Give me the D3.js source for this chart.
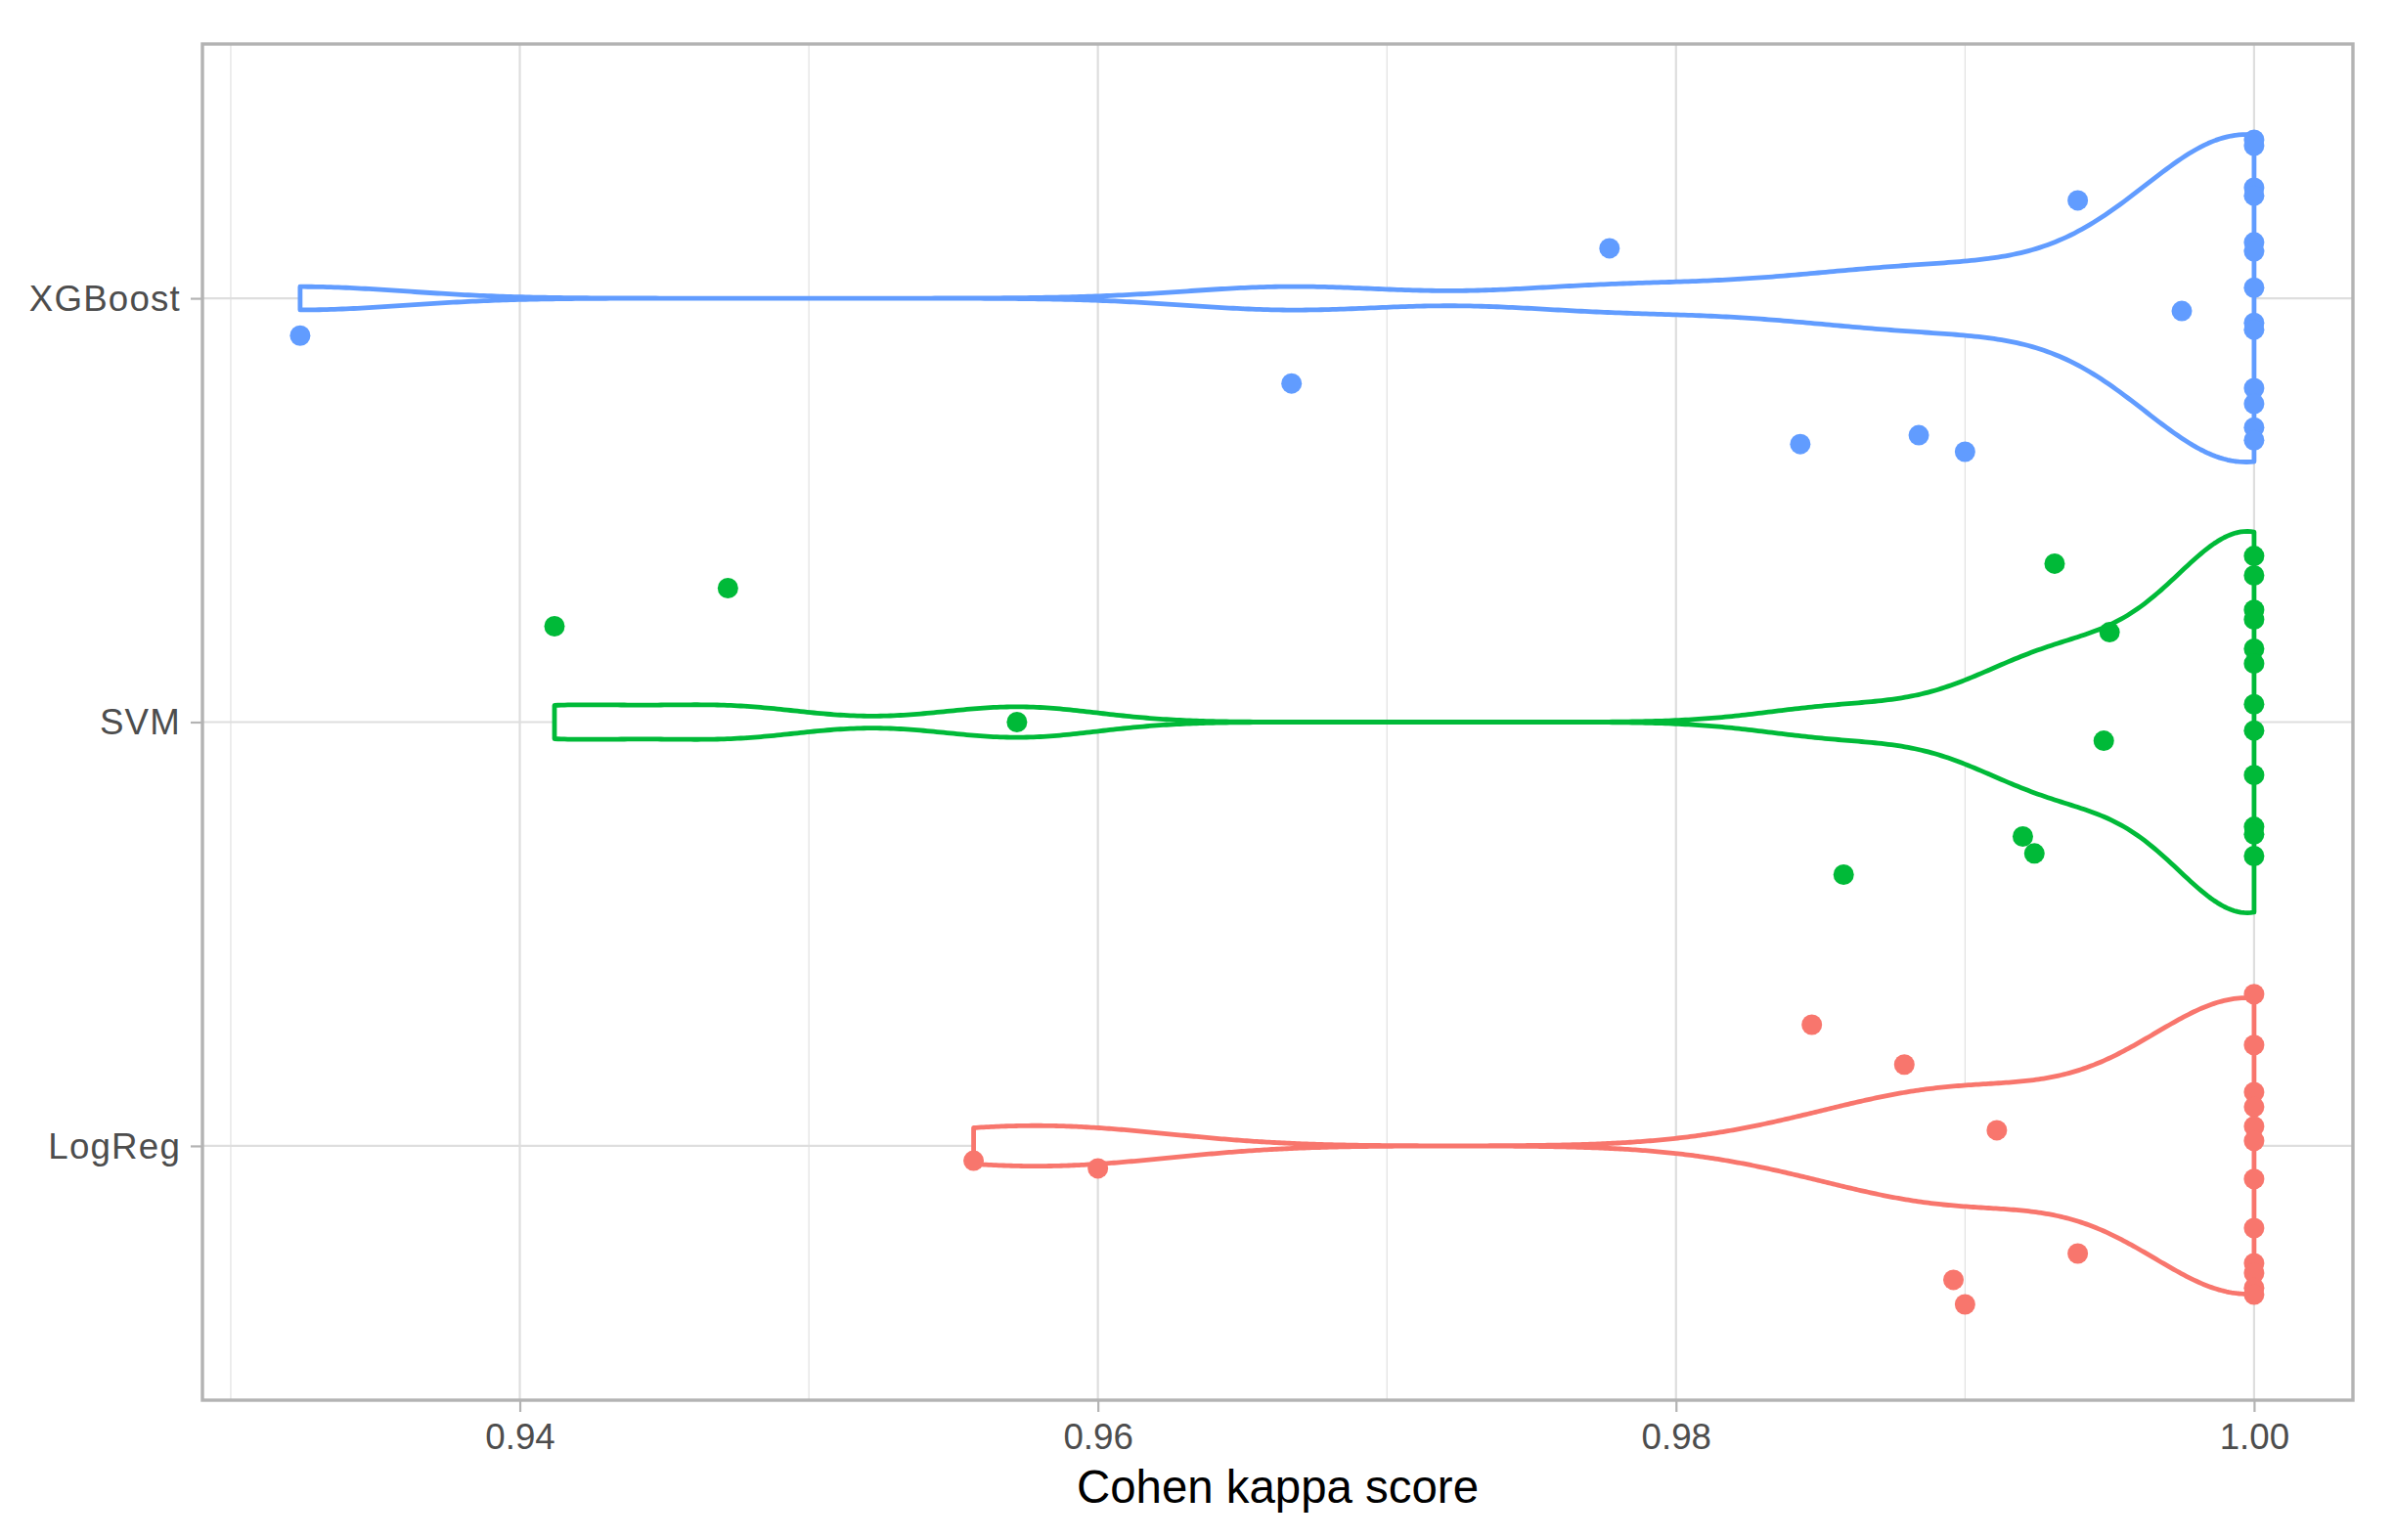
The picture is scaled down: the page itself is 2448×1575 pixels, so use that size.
<html>
<head>
<meta charset="utf-8">
<title>Violin</title>
<style>
  html, body { margin: 0; padding: 0; background: #fff; }
  svg { display: block; font-family: "Liberation Sans", Arial, sans-serif; }
</style>
</head>
<body>
<div id="chart"></div>
<script src="https://d3js.org/d3.v7.min.js"></script>
<script>
  const width = 2448;
  const height = 1575;
  const margin = {top: 45, right: 42, bottom: 143, left: 207};

  // categories, bottom to top
  const models = ['LogReg', 'SVM', 'XGBoost'];
  const colors = ['#F8766D', '#00BA38', '#619CFF'];

  // Cohen kappa per fold
  const logregScores = [0.9557, 0.9600, 0.9847, 0.9879, 0.9896, 0.9900, 0.9911, 0.9939,
    1, 1, 1, 1, 1, 1, 1, 1, 1, 1, 1, 1];
  const svmScores = [0.9412, 0.9472, 0.9572, 0.9858, 0.9920, 0.9924, 0.9931, 0.9948, 0.9950,
    1, 1, 1, 1, 1, 1, 1, 1, 1, 1, 1, 1];
  const xgbScores = [0.9324, 0.9667, 0.9777, 0.9843, 0.9884, 0.9900, 0.9939, 0.9975,
    1, 1, 1, 1, 1, 1, 1, 1, 1, 1, 1, 1, 1];

  // vertical jitter of each point (category units, up is positive)
  const logregJitter = [-0.035, -0.053, 0.286, 0.192, -0.316, -0.374, 0.037, -0.254,
    0.358, 0.238, 0.127, 0.092, 0.046, 0.012, -0.078, -0.194, -0.277, -0.300, -0.335, -0.351];
  const svmJitter = [0.226, 0.316, 0.000, -0.360, -0.270, -0.310, 0.374, -0.044, 0.212,
    0.392, 0.346, 0.265, 0.242, 0.173, 0.138, 0.042, -0.020, -0.125, -0.247, -0.265, -0.316];
  const xgbJitter = [-0.088, -0.201, 0.118, -0.344, -0.323, -0.362, 0.231, -0.030,
    0.374, 0.360, 0.261, 0.242, 0.132, 0.111, 0.025, -0.058, -0.074, -0.212, -0.249, -0.305, -0.335];

  const xTicks = [0.94, 0.96, 0.98, 1.00];
  const xMinor = [0.93, 0.95, 0.97, 0.99];
  const xLabel = 'Cohen kappa score';

  const groups = [
    {name: models[0], color: colors[0], scores: logregScores, jitter: logregJitter},
    {name: models[1], color: colors[1], scores: svmScores, jitter: svmJitter},
    {name: models[2], color: colors[2], scores: xgbScores, jitter: xgbJitter}
  ];

  const svg = d3.select('#chart')
    .append('svg')
    .attr('width', width)
    .attr('height', height);

  const x = d3.scaleLinear().domain([0.92902, 1.00342]).range([margin.left, width - margin.right]);
  const y = d3.scaleLinear().domain([0.4, 3.6]).range([height - margin.bottom, margin.top]);

  // gaussian kde, bandwidth like R's bw.nrd0, trimmed to the data range
  function kde(values, n) {
    const v = values.slice().sort(d3.ascending);
    const sd = d3.deviation(v);
    const iqr = d3.quantileSorted(v, 0.75) - d3.quantileSorted(v, 0.25);
    let lo = Math.min(sd, iqr / 1.34);
    if (!lo) lo = sd || Math.abs(v[0]) || 1;
    const bw = 0.9 * lo * Math.pow(v.length, -0.2);
    const grid = d3.range(n).map(i => v[0] + (v[v.length - 1] - v[0]) * i / (n - 1));
    return grid.map(g => {
      const d = d3.mean(v, s => Math.exp(-0.5 * ((g - s) / bw) ** 2)) / (bw * Math.sqrt(2 * Math.PI));
      return [g, d];
    });
  }

  groups.forEach(g => { g.density = kde(g.scores, 512); });
  const maxDens = d3.max(groups, g => d3.max(g.density, d => d[1]));

  // grid
  const grid = svg.append('g');
  grid.selectAll('.minor').data(xMinor).join('line')
    .attr('x1', d => x(d)).attr('x2', d => x(d))
    .attr('y1', margin.top).attr('y2', height - margin.bottom)
    .attr('stroke', '#DEDEDE').attr('stroke-width', 1.1);
  grid.selectAll('.major').data(xTicks).join('line')
    .attr('x1', d => x(d)).attr('x2', d => x(d))
    .attr('y1', margin.top).attr('y2', height - margin.bottom)
    .attr('stroke', '#DEDEDE').attr('stroke-width', 2.2);
  grid.selectAll('.hmajor').data([1, 2, 3]).join('line')
    .attr('x1', margin.left).attr('x2', width - margin.right)
    .attr('y1', d => y(d)).attr('y2', d => y(d))
    .attr('stroke', '#DEDEDE').attr('stroke-width', 2.2);

  // violins
  const line = d3.line();
  svg.append('g').selectAll('path')
    .data(groups)
    .join('path')
    .attr('d', (g, i) => {
      const c = i + 1;
      const upper = g.density.map(d => [x(d[0]), y(c + 0.45 * d[1] / maxDens)]);
      const lower = g.density.map(d => [x(d[0]), y(c - 0.45 * d[1] / maxDens)]).reverse();
      return line(upper.concat(lower)) + 'Z';
    })
    .attr('fill', '#fff')
    .attr('stroke', g => g.color)
    .attr('stroke-width', 4.8)
    .attr('stroke-linejoin', 'round');

  // jittered points
  svg.append('g').selectAll('g')
    .data(groups)
    .join('g')
    .attr('fill', g => g.color)
    .selectAll('circle')
    .data((g, i) => g.scores.map((s, k) => ({s, j: g.jitter[k], c: i + 1})))
    .join('circle')
    .attr('cx', d => x(d.s))
    .attr('cy', d => y(d.c + d.j))
    .attr('r', 10.5);

  // panel border
  svg.append('rect')
    .attr('x', margin.left).attr('y', margin.top)
    .attr('width', width - margin.left - margin.right)
    .attr('height', height - margin.top - margin.bottom)
    .attr('fill', 'none').attr('stroke', '#B3B3B3').attr('stroke-width', 3.4);

  // axes
  const xAxis = d3.axisBottom(x).tickValues(xTicks).tickFormat(d3.format('.2f')).tickSize(12).tickPadding(12);
  const gx = svg.append('g').attr('transform', `translate(0, ${height - margin.bottom})`).call(xAxis);
  const yAxis = d3.axisLeft(y).tickValues([1, 2, 3]).tickFormat(d => models[d - 1]).tickSize(12).tickPadding(10);
  const gy = svg.append('g').attr('transform', `translate(${margin.left}, 0)`).call(yAxis);
  [gx, gy].forEach(g => {
    g.select('.domain').remove();
    g.selectAll('line').attr('stroke', '#B3B3B3').attr('stroke-width', 2.2);
    g.selectAll('text').attr('fill', '#4D4D4D').style('font-size', '36.7px')
      .style('font-family', '"Liberation Sans", Arial, sans-serif');
  });
  gy.selectAll('text').attr('dy', '0.33em').style('letter-spacing', '1.2px');

  svg.append('text')
    .attr('x', (margin.left + width - margin.right) / 2)
    .attr('y', 1537)
    .attr('text-anchor', 'middle')
    .attr('fill', '#000')
    .style('font-size', '47.4px')
    .text(xLabel);
</script>
</body>
</html>
